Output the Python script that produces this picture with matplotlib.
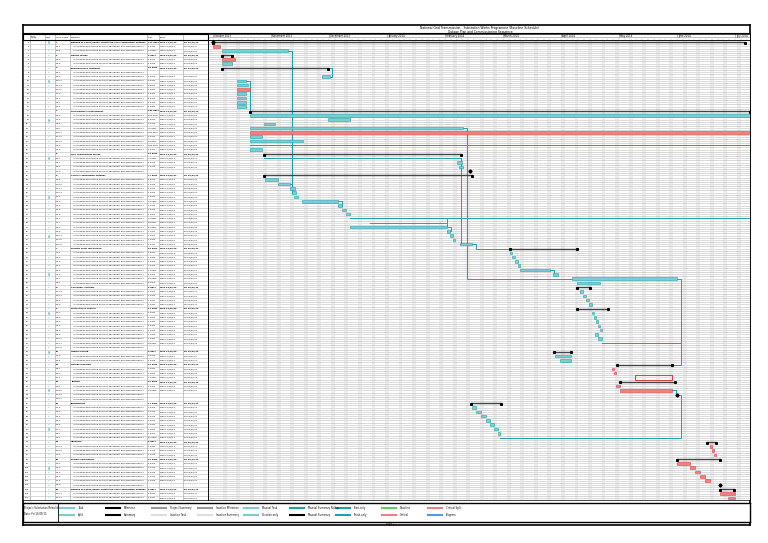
import matplotlib
matplotlib.use("Agg")
import matplotlib.pyplot as plt
from matplotlib.patches import Rectangle

W, H = 768, 543
NROWS = 107
period_labels = ["October 2013", "November 2013", "December 2013", "January 2014", "February 2014",
                 "March 2014", "April 2014", "May 2014", "June 2014", "July 2014"]
DAYS_PER_PX = 30 / 58.0
def d(px):
    return (px - 213) * DAYS_PER_PX

task_rows  = [0, 1, 2, 3, 4, 5, 6, 8, 9, 10, 11, 12, 13, 14, 15, 16, 17, 18, 19, 20, 21, 22, 23, 24, 25,
              26, 27, 28, 29, 31, 32, 33, 34, 35, 36, 37, 38, 39, 40, 41, 42, 43, 44, 45, 46, 47,
              48, 49, 50, 51, 52, 53, 54, 55, 56, 57, 58, 59, 60, 61, 62, 63, 64, 65, 66, 67,
              68, 69, 70, 72, 73, 74, 75, 76, 77, 78, 79, 80, 81, 84, 85, 86, 87, 88, 89, 90, 91, 92,
              93, 94, 95, 96, 97, 98, 99, 100, 101, 102, 104, 105, 106]
task_start = [213, 213, 222, 222, 222, 222, 222, 322, 237, 237, 237, 237, 237, 237, 237, 250, 250, 328, 264, 250, 250, 250, 250, 250, 250,
              264, 264, 457, 459, 264, 265, 278, 290, 292, 294, 302, 338, 342, 346, 350, 370, 350, 447, 450, 453, 460,
              510, 510, 512, 515, 518, 520, 553, 572, 577, 577, 580, 583, 586, 589, 577, 592, 594, 596, 598, 600,
              595, 598, 602, 554, 555, 560, 617, 612, 614, 635, 620, 616, 620, 471, 472, 476, 481, 486, 490, 494, 498, 500,
              707, 710, 712, 714, 677, 677, 690, 695, 700, 705, 720, 720, 728]
task_end   = [745, 220, 288, 232, 235, 232, 328, 330, 246, 248, 250, 246, 246, 246, 246, 750, 750, 350, 275, 463, 750, 262, 303, 750, 262,
              461, 457, 462, 463, 472, 278, 290, 295, 296, 298, 338, 342, 346, 350, 443, 447, 447, 450, 453, 455, 472,
              577, 512, 515, 518, 520, 550, 558, 677, 600, 590, 583, 586, 589, 592, 608, 594, 596, 598, 600, 602,
              598, 602, 677, 571, 571, 571, 672, 614, 616, 672, 675, 620, 672, 501, 476, 481, 486, 490, 494, 498, 500, 677,
              716, 712, 714, 716, 720, 690, 695, 700, 705, 710, 734, 735, 735]
task_kind  = ["s", "c", "t", "s", "c", "t", "s", "t", "t", "t", "c", "t", "t", "t", "t", "s", "t", "t", "t", "t", "c", "t", "t", "l", "t",
              "s", "l", "t", "t", "s", "t", "t", "t", "t", "t", "t", "t", "t", "t", "l", "l", "t", "t", "t", "t", "t",
              "s", "t", "t", "t", "t", "t", "t", "t", "t", "s", "t", "t", "t", "t", "s", "t", "t", "t", "t", "t",
              "t", "t", "l", "s", "t", "t", "s", "c", "c", "o", "s", "c", "c", "s", "t", "t", "t", "t", "t", "t", "t", "l",
              "s", "c", "c", "c", "s", "c", "c", "c", "c", "c", "s", "c", "c"]
milestone_rows = [0, 30, 82, 103]
milestone_px   = [213, 470, 677, 720]
links_from = [2, 6, 9, 17, 20, 37, 41, 43, 47, 53, 55, 70, 81, 92, 2, 27]
links_to   = [33, 8, 16, 41, 55, 38, 43, 44, 48, 54, 70, 75, 82, 82, 35, 47]

cyan, cyan_d, red, grey = "#7ccdd3", "#1aa3ad", "#f08080", "#444444"

fig = plt.figure(figsize=(W / 100, H / 100), dpi=100)
def ax_px(x0, y0, x1, y1):
    return fig.add_axes([x0 / W, 1 - y1 / H, (x1 - x0) / W, (y1 - y0) / H])

frame = ax_px(23, 25, 750, 525); frame.set_xticks([]); frame.set_yticks([])
for s in frame.spines.values(): s.set_linewidth(1.2)
frame.set_facecolor("none")
fig.text(480 / W, 1 - 28.5 / H, "National Grid Transmission - Substation Works Programme (Baseline Schedule)",
         ha="center", va="center", fontsize=2.2)
fig.text(480 / W, 1 - 31.5 / H, "Outage Plan and Commissioning Sequence", ha="center", va="center", fontsize=2.2)
fig.add_artist(plt.Line2D([23 / W, 750 / W], [1 - 33 / H, 1 - 33 / H], color="k", lw=0.8))

y0, y1 = 40, 500
ylim = (NROWS - 0.5, -0.5)
g = ax_px(208, y0, 750, y1)
xmin, xmax = d(208), d(750)
g.set_xlim(xmin, xmax); g.set_ylim(*ylim)
g.set_xticks([]); g.set_yticks([])
for s in g.spines.values(): s.set_linewidth(0.5)
day = 0
while day < xmax:
    g.axvspan(day + 5, day + 7, color="#eeeeee", lw=0, zorder=0)
    day += 7
for r in range(NROWS):
    g.axhline(r + 0.5, color="#bbbbbb", lw=0.4, zorder=0.5)
    g.axhline(r, color="#dddddd", lw=0.8, zorder=0.4)

def lookup(r, which):
    if r in task_rows:
        i = task_rows.index(r)
        return d(task_end[i] if which == "end" else task_start[i])
    return d(milestone_px[milestone_rows.index(r)])
for a, b in zip(links_from, links_to):
    xe = lookup(a, "end"); xs = lookup(b, "start")
    xv = xe + 2
    g.plot([xe, xv, xv, xs], [a, a, b, b], color=cyan_d, lw=0.7, zorder=1)

for r, s, e, k in zip(task_rows, task_start, task_end, task_kind):
    s, e = d(s), d(e)
    if k == "s":
        g.plot([s, e], [r, r], color=grey, lw=1.0, zorder=3)
        g.plot([s, e], [r + 0.15, r + 0.15], ls="none", marker="s", ms=1.2, color="k", zorder=3)
    elif k == "t":
        g.add_patch(Rectangle((s, r - 0.3), e - s, 0.6, fc=cyan, ec=cyan_d, lw=0.4, zorder=2))
    elif k == "c":
        g.add_patch(Rectangle((s, r - 0.3), e - s, 0.6, fc=red, ec="#e04040", lw=0.4, zorder=2))
    elif k == "l":
        g.plot([s, e], [r, r], color=cyan_d, lw=0.7, zorder=2)
    elif k == "o":
        g.add_patch(Rectangle((s, r - 0.5), e - s, 1.0, fc="none", ec="#e04040", lw=0.8, zorder=2))
for r, p in zip(milestone_rows, milestone_px):
    g.plot([d(p)], [r], marker="D", ms=1.6, color="k", zorder=4)

th = ax_px(208, 34, 750, 40)
th.set_xlim(xmin, xmax); th.set_ylim(1, 0); th.set_yticks([])
th.set_xticks([]); th.axhline(0.5, color="#888888", lw=0.4)
for i, lab in enumerate(period_labels):
    x = i * 30
    if x < xmax:
        th.axvline(x, 0.5, 1, color="#888888", lw=0.4)
        th.text(x + 0.5, 0.3, lab, fontsize=1.8, va="center")
for t in range(0, int(xmax), 3):
    th.plot([t, t], [0.75, 1], color="#999999", lw=0.3)
for s in th.spines.values(): s.set_linewidth(0.5)

tb = ax_px(23, y0, 208, y1)
tb.set_xlim(23, 208); tb.set_ylim(*ylim); tb.set_xticks([]); tb.set_yticks([])
for s in tb.spines.values(): s.set_linewidth(0.5)
hd = ax_px(23, 34, 208, 40); hd.set_xlim(23, 208); hd.set_ylim(1, 0); hd.set_xticks([]); hd.set_yticks([])
cols = [30, 45, 55, 70, 147, 159, 183]
headers = ["", "Task\nMode", "WBS", "Task Name", "Duration", "Start", "Finish"]
for c, h in zip([23] + cols, headers):
    hd.text(c + 1, 0.5, h, fontsize=1.6, va="center")
for c in cols:
    tb.axvline(c, color="#999999", lw=0.4); hd.axvline(c, color="#999999", lw=0.4)
summary_rows = [r for r, k in zip(task_rows, task_kind) if k == "s"]
names_summary = ["Rebuild of 132kV/400kV Substation and Transmission Outages", "Design Works", "Engineering & Consents",
                 "Procurement of Equipment", "Civil Construction Works", "400kV Transmission Outages",
                 "Primary Plant Installation", "Secondary Systems", "Protection & Control", "Commissioning",
                 "Outage Planning", "Testing", "Energisation", "Handover", "Project Completion"]
for r in range(NROWS):
    tb.axhline(r + 0.5, color="#bbbbbb", lw=0.4)
    tb.text(29, r, str(r + 1), fontsize=1.5, ha="right", va="center")
    tb.text(48, r, "✓" if r % 9 else "▣", fontsize=1.5, color=cyan_d, va="center")
    bold = r in summary_rows
    if bold:
        idx = summary_rows.index(r) % len(names_summary)
        name = names_summary[idx]; wbs = f"{summary_rows.index(r) + 1}"
    else:
        name = "    Installation and testing of circuit equipment and associated works"
        wbs = f"1.{r % 12 + 1}.{r % 7 + 1}"
    fw = "bold" if bold else "normal"
    tb.text(56, r, wbs, fontsize=1.5, va="center", weight=fw)
    tb.text(71, r, name, fontsize=1.5, va="center", weight=fw)
    if r in task_rows:
        i = task_rows.index(r)
        dur = max(1, round((task_end[i] - task_start[i]) * DAYS_PER_PX * 5 / 7))
        tb.text(148, r, f"{dur} days", fontsize=1.5, va="center", weight=fw)
        tb.text(160, r, "Mon 14/10/13", fontsize=1.5, va="center", weight=fw)
        tb.text(184, r, "Fri 25/04/14", fontsize=1.5, va="center", weight=fw)

lg = ax_px(23, 503, 750, 522)
lg.set_xlim(23, 750); lg.set_ylim(522, 503); lg.set_xticks([]); lg.set_yticks([])
for s in lg.spines.values(): s.set_linewidth(1.0)
lg.axvline(58, color="k", lw=0.6)
lg.text(24, 508, "Project: Substation Rebuild", fontsize=1.8, va="center")
lg.text(24, 514, "Date: Fri 13/09/13", fontsize=1.8, va="center")
legend_items = ["Task", "Split", "Milestone", "Summary", "Project Summary", "Inactive Task", "Inactive Milestone",
                "Inactive Summary", "Manual Task", "Duration-only", "Manual Summary Rollup", "Manual Summary",
                "Start-only", "Finish-only", "Deadline", "Critical", "Critical Split", "Progress"]
legend_cols = [cyan, cyan, "k", "k", "#999", "#ddd", "#999", "#ddd", cyan, cyan, cyan_d, "k", cyan_d, cyan_d,
               "#6c6", red, red, "#5599dd"]
for i, (lab, col) in enumerate(zip(legend_items, legend_cols)):
    cx = 60 + (i // 2) * 46; cy = 508 if i % 2 == 0 else 515
    lg.plot([cx, cx + 14], [cy, cy], color=col, lw=1.5)
    lg.text(cx + 18, cy, lab, fontsize=1.8, va="center")
fig.text(390 / W, 1 - 524 / H, "Page 1", fontsize=1.8, ha="center", va="center")

fig.savefig("out.png", dpi=100)
